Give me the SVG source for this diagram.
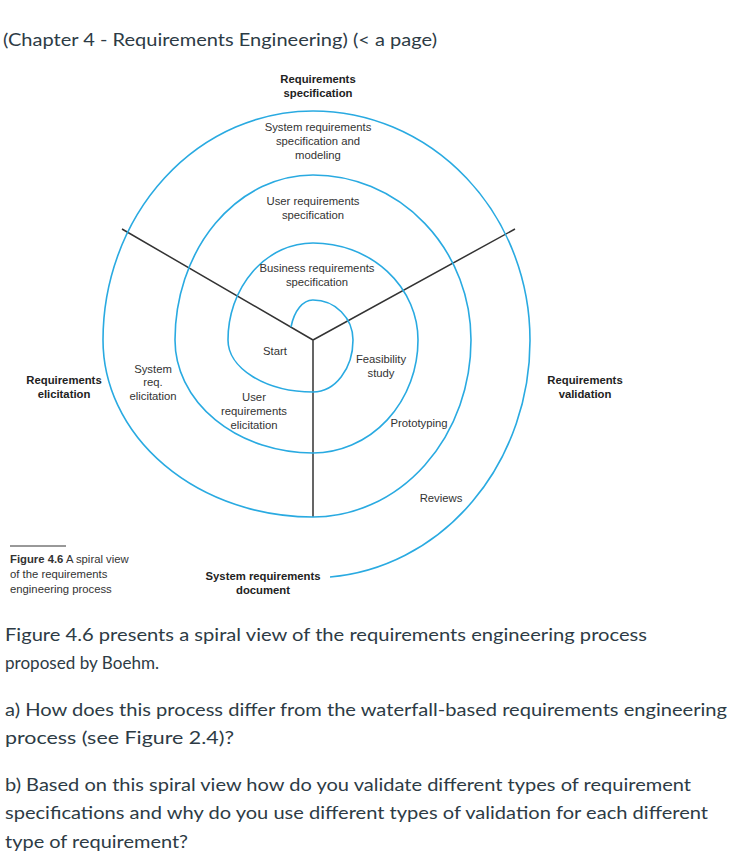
<svg xmlns="http://www.w3.org/2000/svg" width="737" height="867" viewBox="0 0 737 867">
<style>
text{font-family:"Liberation Sans",Arial,sans-serif;fill:#333;}
.t{font-family:Lato,"Liberation Sans",sans-serif;font-size:18px;fill:#2d3b45;}
.q{font-family:Lato,"Liberation Sans",sans-serif;font-size:17.5px;fill:#2d3b45;}
.l{font-size:11.3px;text-anchor:middle;}
.b{font-size:11.3px;font-weight:bold;text-anchor:middle;fill:#222;}
.c{font-size:11.3px;fill:#333;}
.sp{fill:none;stroke:#29aae1;stroke-width:1.6;}
.ax{stroke:#333;stroke-width:1.5;fill:none;}
</style>
<rect width="737" height="867" fill="#fff"/>
<text class="t" x="3" y="46" textLength="434" lengthAdjust="spacingAndGlyphs">(Chapter 4 - Requirements Engineering) (&lt; a page)</text>
<g id="connectors">
<path class="ax" d="M313,340 L122,229 M313,340 L515,229 M313,340 L313,517"/>
<path id="spiral" class="sp" d="M291,327 A23,40 0 0 1 313,300 A40,40 0 0 1 353,340 A40,52 0 0 1 313,392 A85,52 0 0 1 228,340 A85,97 0 0 1 313,243 A105,97 0 0 1 418,340 A105,113 0 0 1 313,453 A138,113 0 0 1 175,340 A138,165 0 0 1 313,175 A158,165 0 0 1 471,340 A158,177 0 0 1 313,517 A210,177 0 0 1 103,340 A210,229 0 0 1 313,111 A217,229 0 0 1 530,340 A217,237 0 0 1 330,577"/>
</g>
<g id="n-req-spec"><text class="b" x="318" y="83">Requirements</text><text class="b" x="318" y="97">specification</text></g>
<g id="n-sys-spec"><text class="l" x="318" y="131">System requirements</text><text class="l" x="318" y="145">specification and</text><text class="l" x="318" y="159">modeling</text></g>
<g id="n-user-spec"><text class="l" x="313" y="205">User requirements</text><text class="l" x="313" y="219">specification</text></g>
<g id="n-bus-spec"><text class="l" x="317" y="272">Business requirements</text><text class="l" x="317" y="286">specification</text></g>
<g id="n-start"><text class="l" x="275" y="355">Start</text></g>
<g id="n-feas"><text class="l" x="381" y="363">Feasibility</text><text class="l" x="381" y="377">study</text></g>
<g id="n-user-elic"><text class="l" x="254" y="401">User</text><text class="l" x="254" y="415">requirements</text><text class="l" x="254" y="429">elicitation</text></g>
<g id="n-proto"><text class="l" x="419" y="427" font-size="10.8">Prototyping</text></g>
<g id="n-reviews"><text class="l" x="441" y="502">Reviews</text></g>
<g id="n-sys-elic"><text class="l" x="153" y="373">System</text><text class="l" x="153" y="386">req.</text><text class="l" x="153" y="400">elicitation</text></g>
<g id="n-req-elic"><text class="b" x="64" y="384">Requirements</text><text class="b" x="64" y="398">elicitation</text></g>
<g id="n-req-val"><text class="b" x="585" y="384">Requirements</text><text class="b" x="585" y="398">validation</text></g>
<g id="n-doc"><text class="b" x="263" y="580">System requirements</text><text class="b" x="263" y="594">document</text></g>
<g id="caption">
<line x1="10" y1="546" x2="66" y2="546" stroke="#333" stroke-width="1"/>
<text class="c" x="10" y="563"><tspan font-weight="bold">Figure 4.6</tspan>  A spiral view</text>
<text class="c" x="10" y="578">of the requirements</text>
<text class="c" x="10" y="593">engineering process</text>
</g>
<text class="q" x="5" y="641" textLength="642" lengthAdjust="spacingAndGlyphs">Figure 4.6 presents a spiral view of the requirements engineering process</text>
<text class="q" x="5" y="669" textLength="154" lengthAdjust="spacingAndGlyphs">proposed by Boehm.</text>
<text class="q" x="5" y="716" textLength="722" lengthAdjust="spacingAndGlyphs">a) How does this process differ from the waterfall-based requirements engineering</text>
<text class="q" x="5" y="744" textLength="229" lengthAdjust="spacingAndGlyphs">process (see Figure 2.4)?</text>
<text class="q" x="5" y="791" textLength="686" lengthAdjust="spacingAndGlyphs">b) Based on this spiral view how do you validate different types of requirement</text>
<text class="q" x="5" y="819" textLength="703" lengthAdjust="spacingAndGlyphs">specifications and why do you use different types of validation for each different</text>
<text class="q" x="5" y="848" textLength="183" lengthAdjust="spacingAndGlyphs">type of requirement?</text>
</svg>
